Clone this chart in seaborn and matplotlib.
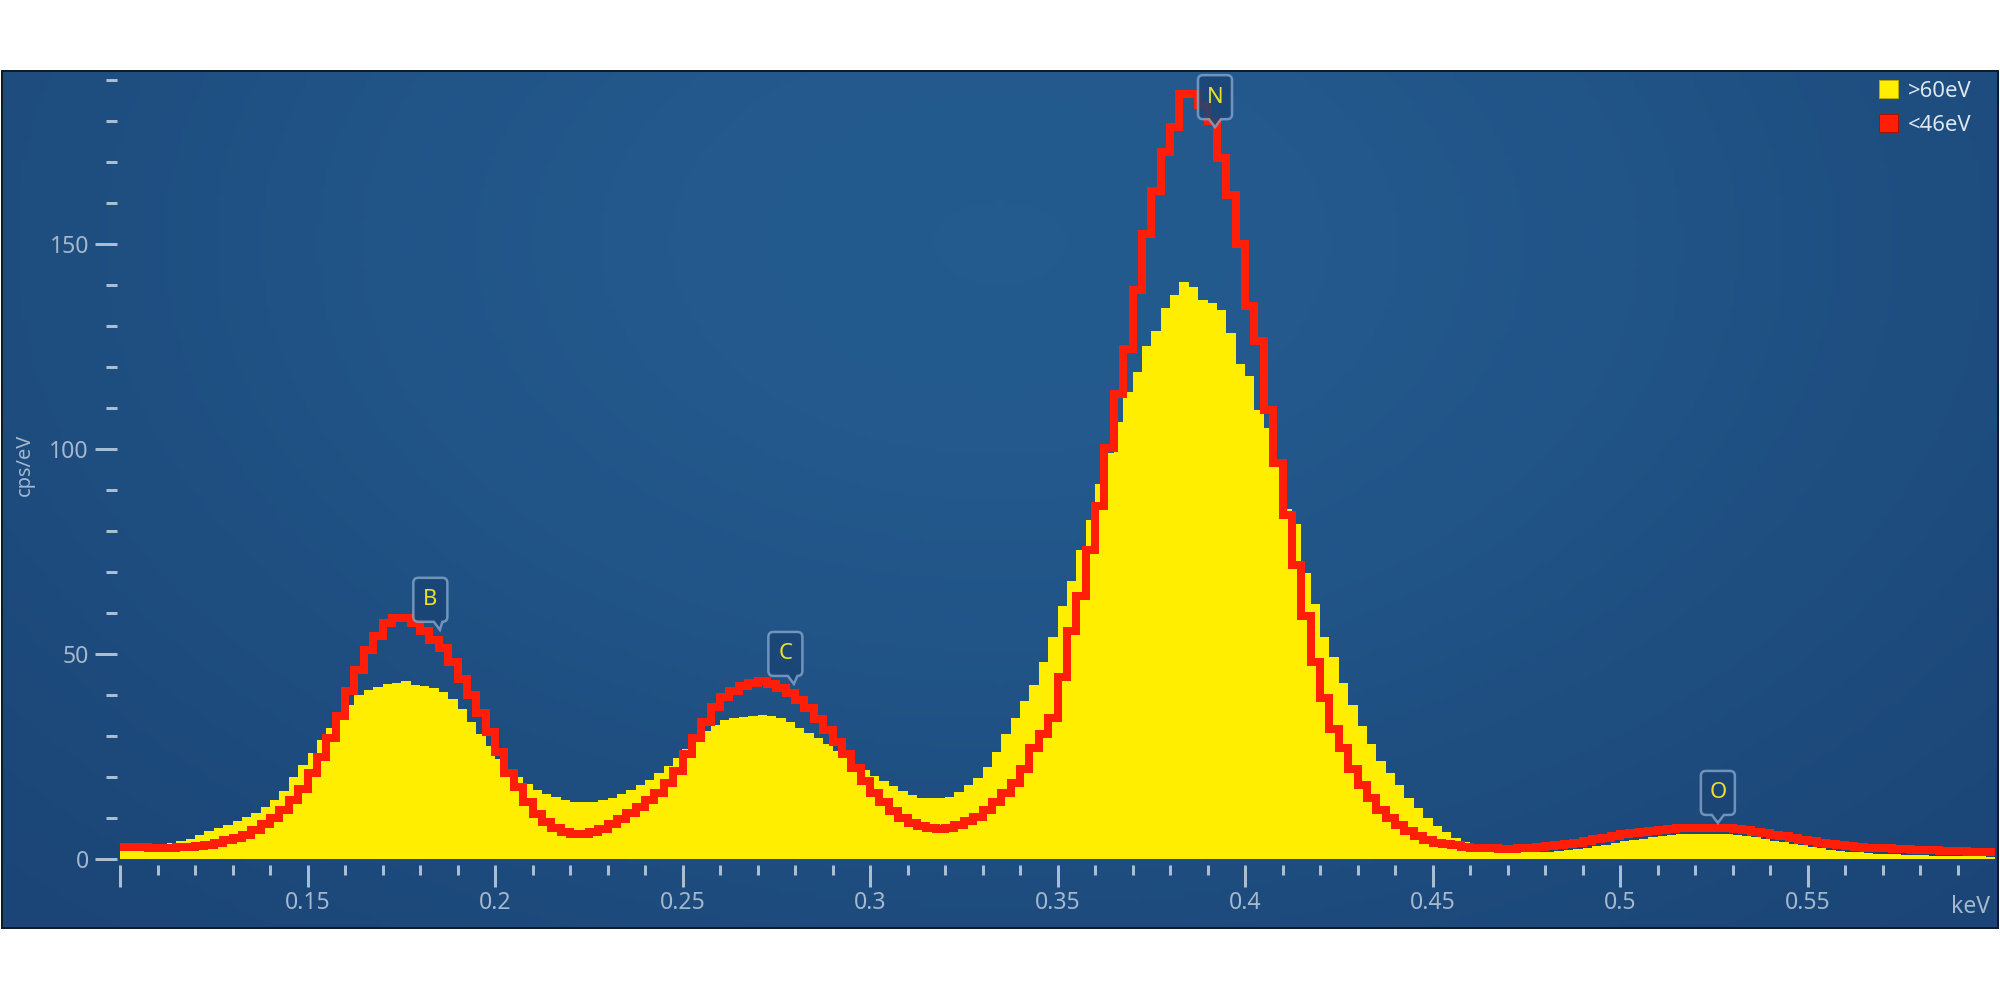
import numpy as np
import pandas as pd
import matplotlib
matplotlib.use("Agg")
import matplotlib.pyplot as plt
import matplotlib.transforms as mtransforms
import seaborn as sns
from matplotlib.patches import Patch, Rectangle, PathPatch
from matplotlib.path import Path
from matplotlib.offsetbox import DrawingArea, AnnotationBbox
from matplotlib.text import Text
from matplotlib.colors import LinearSegmentedColormap

# ---------------- data ----------------
bin_start = 0.1      # keV
bin_width = 0.0025   # keV
n_bins = 200

yellow_counts = [
    2.0, 2.3, 2.6, 3.0, 3.4, 3.9, 4.4, 5.0, 5.8, 6.8,
    7.6, 8.3, 9.2, 10.2, 11.2, 12.6, 14.3, 16.5, 20.0, 23.0,
    25.8, 29.0, 32.0, 35.0, 37.5, 40.0, 41.2, 42.0, 42.6, 43.0,
    43.3, 42.5, 42.2, 41.8, 40.8, 39.0, 36.5, 33.5, 30.5, 27.5,
    24.5, 22.0, 20.0, 18.2, 16.8, 15.8, 15.2, 14.5, 14.0, 13.9,
    13.9, 14.3, 15.0, 15.8, 16.8, 18.0, 19.3, 21.0, 22.8, 24.7,
    26.8, 29.0, 31.3, 32.8, 33.8, 34.4, 34.7, 34.9, 35.1, 34.9,
    34.4, 33.3, 31.9, 30.8, 29.6, 28.0, 26.3, 24.6, 23.0, 21.6,
    20.2, 19.1, 17.7, 16.5, 15.5, 15.0, 14.8, 14.9, 15.2, 16.4,
    18.0, 19.8, 22.5, 26.0, 30.5, 34.5, 38.5, 42.5, 48.0, 54.2,
    61.7, 67.9, 75.4, 82.8, 91.5, 99.0, 106.5, 113.9, 118.9, 125.1,
    128.9, 134.5, 137.6, 140.7, 139.4, 136.3, 135.7, 133.8, 128.2, 120.8,
    117.7, 109.6, 105.2, 96.5, 85.3, 81.6, 69.8, 62.3, 54.2, 49.3,
    43.0, 37.5, 32.5, 28.0, 24.0, 21.0, 18.0, 15.0, 12.5, 10.0,
    8.0, 6.5, 5.2, 4.2, 3.4, 2.8, 2.3, 1.9, 1.7, 1.6,
    1.6, 1.7, 1.8, 2.0, 2.2, 2.5, 2.8, 3.1, 3.5, 3.9,
    4.3, 4.7, 5.0, 5.3, 5.6, 5.8, 6.0, 6.1, 6.2, 6.2,
    6.2, 6.1, 5.9, 5.6, 5.3, 4.9, 4.5, 4.1, 3.7, 3.3,
    2.9, 2.6, 2.3, 2.0, 1.8, 1.6, 1.4, 1.3, 1.2, 1.1,
    1.0, 0.9, 0.9, 0.8, 0.8, 0.8, 0.7, 0.7, 0.7, 0.6,
]

red_counts = [
    2.9, 3.0, 2.9, 2.8, 2.7, 2.8, 2.9, 3.0, 3.1, 3.3,
    4.0, 4.6, 5.1, 5.8, 7.0, 8.5, 10.0, 12.0, 14.3, 17.0,
    21.0, 25.0, 29.5, 35.0, 41.0, 46.0, 51.0, 54.5, 57.5, 58.8,
    58.8, 57.5, 55.5, 53.5, 51.5, 48.0, 44.0, 40.0, 35.5, 31.0,
    26.0, 21.0, 17.5, 14.0, 11.0, 9.0, 7.5, 6.6, 6.1, 6.1,
    6.6, 7.4, 8.5, 9.8, 11.1, 12.8, 14.4, 16.2, 18.5, 21.5,
    25.5, 29.5, 33.5, 37.0, 39.5, 41.0, 42.2, 43.0, 43.3, 42.8,
    41.8, 40.5, 38.8, 36.8, 34.2, 31.5, 28.5, 25.5, 22.2, 19.0,
    16.0, 13.8, 11.8, 10.0, 8.8, 8.0, 7.5, 7.4, 7.5, 8.2,
    9.2, 10.3, 12.0, 14.0, 16.0, 18.5, 22.0, 27.0, 30.5, 34.5,
    44.3, 55.5, 64.2, 75.4, 86.0, 100.2, 113.3, 124.5, 138.8, 152.5,
    163.0, 172.4, 178.6, 186.7, 186.7, 184.0, 180.0, 171.0, 162.0, 150.0,
    135.0, 126.4, 109.6, 96.5, 84.0, 71.6, 59.2, 48.0, 39.3, 31.8,
    27.0, 22.0, 18.0, 15.0, 12.0, 10.0, 8.2, 6.8, 5.6, 4.7,
    4.0, 3.6, 3.3, 3.0, 2.8, 2.7, 2.6, 2.5, 2.5, 2.6,
    2.7, 2.9, 3.1, 3.4, 3.7, 4.0, 4.4, 4.8, 5.2, 5.6,
    6.0, 6.3, 6.6, 6.9, 7.1, 7.3, 7.5, 7.6, 7.6, 7.6,
    7.6, 7.5, 7.3, 7.0, 6.7, 6.3, 5.9, 5.5, 5.1, 4.7,
    4.3, 4.0, 3.7, 3.4, 3.2, 3.0, 2.8, 2.7, 2.6, 2.5,
    2.4, 2.3, 2.2, 2.1, 2.0, 1.9, 1.9, 1.8, 1.8, 1.7,
]

series_labels = [">60eV", "<46eV"]

x_major_ticks = [0.10, 0.15, 0.20, 0.25, 0.30, 0.35, 0.40, 0.45, 0.50, 0.55]
x_major_labels = ["", "0.15", "0.2", "0.25", "0.3", "0.35", "0.4", "0.45", "0.5", "0.55"]
y_major_ticks = [0, 50, 100, 150]
y_major_labels = ["0", "50", "100", "150"]

element_names = ["B", "C", "N", "O"]
element_keV = [0.1853, 0.2797, 0.392, 0.5261]
element_height = [55.9, 42.7, 178.5, 8.8]
element_tip = [0.78, 0.75, 0.5, 0.5]

# ---------------- style ----------------
YELLOW = "#ffee00"
RED = "#ff1e08"
TICK_C = "#a9bdd3"
LABEL_C = "#a4b8ce"
LEG_C = "#dfe6ee"

sns.set_theme(style="white")
plt.rcParams["font.family"] = ["Noto Sans", "DejaVu Sans"]

DPI = 72
fig = plt.figure(figsize=(2000 / DPI, 1000 / DPI), dpi=DPI, facecolor="white")

# background panel with soft gradient
bg = fig.add_axes([0.001, 0.072, 0.998, 0.857], zorder=0)
bg.axis("off")
yy, xx = np.mgrid[0:1:200j, 0:1:400j]
g = np.exp(-((xx - 0.5) / 0.6) ** 2 - ((yy - 0.2) / 0.9) ** 2)
cmap = LinearSegmentedColormap.from_list("bgblue", ["#1b4576", "#245b8f"])
bg.imshow(g, cmap=cmap, aspect="auto", extent=[0, 1, 0, 1], origin="upper")
bg.set_xlim(0, 1)
bg.set_ylim(0, 1)
fig.patches.append(Rectangle((0.001, 0.072), 0.998, 0.857, transform=fig.transFigure,
                             fill=False, edgecolor="#0d1b2c", linewidth=2, zorder=10))

ax = fig.add_axes([0.06, 0.141, 0.9375, 0.788], zorder=1)
ax.set_facecolor("none")

edges = bin_start + bin_width * np.arange(n_bins + 1)
centers = edges[:-1] + bin_width / 2
yellow_df = pd.DataFrame({"keV": centers, "cps": yellow_counts})
red_df = pd.DataFrame({"keV": edges, "cps": list(red_counts) + [red_counts[-1]]})

sns.histplot(data=yellow_df, x="keV", weights="cps", bins=list(edges), element="step",
             fill=True, color=YELLOW, alpha=1, linewidth=0, ax=ax, zorder=2)
sns.lineplot(data=red_df, x="keV", y="cps", drawstyle="steps-post",
             color=RED, linewidth=8, solid_joinstyle="miter", ax=ax, zorder=3)

ax.set_xlim(0.1, 0.6)
ax.set_ylim(0, 192.2)

for s in ax.spines.values():
    s.set_visible(False)
ax.spines["bottom"].set_position(("outward", 6))
ax.spines["left"].set_position(("outward", 3))

ax.set_xticks(x_major_ticks)
ax.set_xticklabels(x_major_labels)
ax.set_xticks([t for t in np.round(np.arange(0.11, 0.595, 0.01), 3)
               if min(abs(t - m) for m in x_major_ticks) > 1e-6], minor=True)
ax.set_yticks(y_major_ticks)
ax.set_yticklabels(y_major_labels)
ax.set_yticks([v for v in range(10, 200, 10) if v % 50 != 0], minor=True)

ax.tick_params(axis="x", which="both", bottom=True, top=False)
ax.tick_params(axis="y", which="both", left=True, right=False)
ax.tick_params(axis="x", which="major", direction="out", length=22, width=3, color=TICK_C,
               pad=4, labelsize=23, labelcolor=LABEL_C)
ax.tick_params(axis="x", which="minor", direction="out", length=10, width=3, color=TICK_C)
ax.tick_params(axis="y", which="major", direction="out", length=22, width=3, color=TICK_C,
               pad=6, labelsize=23, labelcolor=LABEL_C)
ax.tick_params(axis="y", which="minor", direction="out", length=11, width=3, color=TICK_C)

ax.set_xlabel("")
ax.set_ylabel("cps/eV", fontsize=20, color=LABEL_C)
ax.yaxis.set_label_coords(-0.0453, 0.5)

trans = mtransforms.blended_transform_factory(ax.transData, ax.transAxes)
ax.text(0.5935, -0.0609, "keV", transform=trans, ha="center", va="center",
        fontsize=23, color=LABEL_C)

# legend
handles = [Patch(facecolor=YELLOW, edgecolor="#b8aa00", linewidth=1),
           Patch(facecolor=RED, edgecolor="#a81200", linewidth=1)]
ax.legend(handles, series_labels, loc="upper right", bbox_to_anchor=(1972 / 2000, 1 - 80 / 1000),
          bbox_transform=fig.transFigure, frameon=False, fontsize=22, handlelength=0.9,
          handleheight=0.9, handletextpad=0.45, labelspacing=0.55, borderpad=0,
          borderaxespad=0, labelcolor=LEG_C)

# element marker boxes
def element_box(name, ex, ey, fx):
    w, h, p, r = 34.0, 44.0, 8.0, 5.0
    tx = fx * w
    verts = [(0, p + r), (0, p + h - r), (0, p + h), (r, p + h), (w - r, p + h), (w, p + h),
             (w, p + h - r), (w, p + r), (w, p), (w - r, p), (min(tx + 6, w - r), p), (tx, 0),
             (max(tx - 6, r), p), (r, p), (0, p), (0, p + r), (0, p + r)]
    codes = [Path.MOVETO, Path.LINETO, Path.CURVE3, Path.CURVE3, Path.LINETO, Path.CURVE3,
             Path.CURVE3, Path.LINETO, Path.CURVE3, Path.CURVE3, Path.LINETO, Path.LINETO,
             Path.LINETO, Path.LINETO, Path.CURVE3, Path.CURVE3, Path.CLOSEPOLY]
    da = DrawingArea(w, h + p, 0, 0, clip=False)
    da.add_artist(PathPatch(Path(verts, codes), facecolor=(0.10, 0.27, 0.46, 0.85),
                            edgecolor=(0.55, 0.68, 0.82, 0.75), linewidth=2.5))
    da.add_artist(Text(w / 2, p + h / 2, name, ha="center", va="center",
                       color="#ece02a", fontsize=22))
    ab = AnnotationBbox(da, (ex, ey), xycoords="data", box_alignment=(fx, 0),
                        frameon=False, pad=0, zorder=5)
    ax.add_artist(ab)

for nm, ex, ey, fx in zip(element_names, element_keV, element_height, element_tip):
    element_box(nm, ex, ey, fx)

fig.savefig("out.png", dpi=DPI, facecolor="white")
